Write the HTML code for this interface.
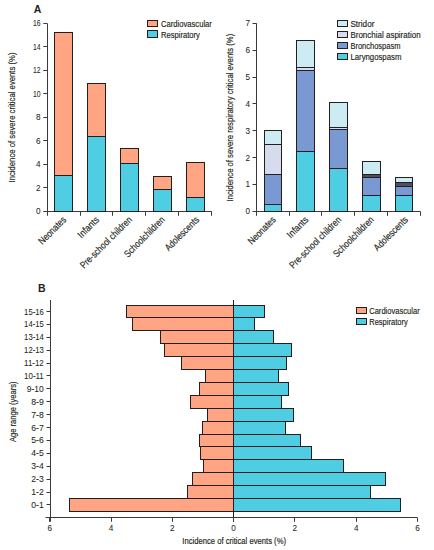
<!DOCTYPE html>
<html><head><meta charset="utf-8"><style>
html,body{margin:0;padding:0;background:#fff;}
svg{display:block;font-family:"Liberation Sans", sans-serif;}
</style></head><body>
<svg width="434" height="550" viewBox="0 0 434 550">
<rect x="0" y="0" width="434" height="550" fill="#fff"/>
<text x="33.80" y="12.70" font-size="10.5" text-anchor="start" font-weight="bold" fill="#231F20">A</text>
<line x1="47.50" y1="23.50" x2="47.50" y2="211.30" stroke="#3a3a3a" stroke-width="1.0"/>
<line x1="47.30" y1="211.50" x2="211.50" y2="211.50" stroke="#3a3a3a" stroke-width="1.0"/>
<line x1="43.30" y1="211.50" x2="47.30" y2="211.50" stroke="#3a3a3a" stroke-width="1.0"/>
<text x="40.50" y="214.30" font-size="8.2" text-anchor="end" font-weight="normal" fill="#231F20" stroke="#231F20" stroke-width="0.05">0</text>
<line x1="43.30" y1="187.50" x2="47.30" y2="187.50" stroke="#3a3a3a" stroke-width="1.0"/>
<text x="40.50" y="190.82" font-size="8.2" text-anchor="end" font-weight="normal" fill="#231F20" stroke="#231F20" stroke-width="0.05">2</text>
<line x1="43.30" y1="164.50" x2="47.30" y2="164.50" stroke="#3a3a3a" stroke-width="1.0"/>
<text x="40.50" y="167.34" font-size="8.2" text-anchor="end" font-weight="normal" fill="#231F20" stroke="#231F20" stroke-width="0.05">4</text>
<line x1="43.30" y1="140.50" x2="47.30" y2="140.50" stroke="#3a3a3a" stroke-width="1.0"/>
<text x="40.50" y="143.86" font-size="8.2" text-anchor="end" font-weight="normal" fill="#231F20" stroke="#231F20" stroke-width="0.05">6</text>
<line x1="43.30" y1="117.50" x2="47.30" y2="117.50" stroke="#3a3a3a" stroke-width="1.0"/>
<text x="40.50" y="120.38" font-size="8.2" text-anchor="end" font-weight="normal" fill="#231F20" stroke="#231F20" stroke-width="0.05">8</text>
<line x1="43.30" y1="93.50" x2="47.30" y2="93.50" stroke="#3a3a3a" stroke-width="1.0"/>
<text x="40.50" y="96.90" font-size="8.2" text-anchor="end" font-weight="normal" textLength="7.60" lengthAdjust="spacingAndGlyphs" fill="#231F20" stroke="#231F20" stroke-width="0.05">10</text>
<line x1="43.30" y1="70.50" x2="47.30" y2="70.50" stroke="#3a3a3a" stroke-width="1.0"/>
<text x="40.50" y="73.42" font-size="8.2" text-anchor="end" font-weight="normal" textLength="7.60" lengthAdjust="spacingAndGlyphs" fill="#231F20" stroke="#231F20" stroke-width="0.05">12</text>
<line x1="43.30" y1="46.50" x2="47.30" y2="46.50" stroke="#3a3a3a" stroke-width="1.0"/>
<text x="40.50" y="49.94" font-size="8.2" text-anchor="end" font-weight="normal" textLength="7.60" lengthAdjust="spacingAndGlyphs" fill="#231F20" stroke="#231F20" stroke-width="0.05">14</text>
<line x1="43.30" y1="23.50" x2="47.30" y2="23.50" stroke="#3a3a3a" stroke-width="1.0"/>
<text x="40.50" y="26.46" font-size="8.2" text-anchor="end" font-weight="normal" textLength="7.60" lengthAdjust="spacingAndGlyphs" fill="#231F20" stroke="#231F20" stroke-width="0.05">16</text>
<line x1="47.50" y1="211.30" x2="47.50" y2="215.80" stroke="#3a3a3a" stroke-width="1.0"/>
<line x1="80.50" y1="211.30" x2="80.50" y2="215.80" stroke="#3a3a3a" stroke-width="1.0"/>
<line x1="112.50" y1="211.30" x2="112.50" y2="215.80" stroke="#3a3a3a" stroke-width="1.0"/>
<line x1="145.50" y1="211.30" x2="145.50" y2="215.80" stroke="#3a3a3a" stroke-width="1.0"/>
<line x1="178.50" y1="211.30" x2="178.50" y2="215.80" stroke="#3a3a3a" stroke-width="1.0"/>
<line x1="211.50" y1="211.30" x2="211.50" y2="215.80" stroke="#3a3a3a" stroke-width="1.0"/>
<rect x="54.50" y="175.50" width="18.00" height="36.00" fill="#4FCDE3" stroke="#231F20" stroke-width="1.0"/>
<rect x="54.50" y="32.50" width="18.00" height="143.00" fill="#FFA583" stroke="#231F20" stroke-width="1.0"/>
<rect x="87.50" y="136.50" width="18.00" height="75.00" fill="#4FCDE3" stroke="#231F20" stroke-width="1.0"/>
<rect x="87.50" y="83.50" width="18.00" height="53.00" fill="#FFA583" stroke="#231F20" stroke-width="1.0"/>
<rect x="120.50" y="163.50" width="18.00" height="48.00" fill="#4FCDE3" stroke="#231F20" stroke-width="1.0"/>
<rect x="120.50" y="148.50" width="18.00" height="15.00" fill="#FFA583" stroke="#231F20" stroke-width="1.0"/>
<rect x="153.50" y="189.50" width="18.00" height="22.00" fill="#4FCDE3" stroke="#231F20" stroke-width="1.0"/>
<rect x="153.50" y="176.50" width="18.00" height="13.00" fill="#FFA583" stroke="#231F20" stroke-width="1.0"/>
<rect x="186.50" y="197.50" width="18.00" height="14.00" fill="#4FCDE3" stroke="#231F20" stroke-width="1.0"/>
<rect x="186.50" y="162.50" width="18.00" height="35.00" fill="#FFA583" stroke="#231F20" stroke-width="1.0"/>
<text x="66.90" y="220.40" font-size="9.8" text-anchor="end" font-weight="normal" textLength="34.80" lengthAdjust="spacingAndGlyphs" transform="rotate(-45 66.90 220.40)" fill="#231F20" stroke="#231F20" stroke-width="0.16">Neonates</text>
<text x="99.74" y="220.40" font-size="9.8" text-anchor="end" font-weight="normal" textLength="25.80" lengthAdjust="spacingAndGlyphs" transform="rotate(-45 99.74 220.40)" fill="#231F20" stroke="#231F20" stroke-width="0.16">Infants</text>
<text x="132.58" y="220.40" font-size="9.8" text-anchor="end" font-weight="normal" textLength="68.80" lengthAdjust="spacingAndGlyphs" transform="rotate(-45 132.58 220.40)" fill="#231F20" stroke="#231F20" stroke-width="0.16">Pre-school children</text>
<text x="165.42" y="220.40" font-size="9.8" text-anchor="end" font-weight="normal" textLength="53.00" lengthAdjust="spacingAndGlyphs" transform="rotate(-45 165.42 220.40)" fill="#231F20" stroke="#231F20" stroke-width="0.16">Schoolchildren</text>
<text x="199.76" y="220.40" font-size="9.8" text-anchor="end" font-weight="normal" textLength="44.00" lengthAdjust="spacingAndGlyphs" transform="rotate(-45 199.76 220.40)" fill="#231F20" stroke="#231F20" stroke-width="0.16">Adolescents</text>
<text x="15.00" y="117.50" font-size="8.5" text-anchor="middle" font-weight="normal" textLength="130.00" lengthAdjust="spacingAndGlyphs" transform="rotate(-90 15.00 117.50)" fill="#231F20" stroke="#231F20" stroke-width="0.16">Incidence of severe critical events (%)</text>
<rect x="147.50" y="20.50" width="10.00" height="6.00" fill="#FFA583" stroke="#231F20" stroke-width="1.0"/>
<rect x="147.50" y="30.50" width="10.00" height="7.00" fill="#4FCDE3" stroke="#231F20" stroke-width="1.0"/>
<text x="160.90" y="26.90" font-size="9.0" text-anchor="start" font-weight="normal" textLength="51.00" lengthAdjust="spacingAndGlyphs" fill="#231F20" stroke="#231F20" stroke-width="0.16">Cardiovascular</text>
<text x="160.90" y="37.60" font-size="9.0" text-anchor="start" font-weight="normal" textLength="39.00" lengthAdjust="spacingAndGlyphs" fill="#231F20" stroke="#231F20" stroke-width="0.16">Respiratory</text>
<line x1="256.50" y1="23.30" x2="256.50" y2="211.30" stroke="#3a3a3a" stroke-width="1.0"/>
<line x1="256.50" y1="211.50" x2="420.00" y2="211.50" stroke="#3a3a3a" stroke-width="1.0"/>
<line x1="252.50" y1="211.50" x2="256.50" y2="211.50" stroke="#3a3a3a" stroke-width="1.0"/>
<text x="250.00" y="214.30" font-size="8.2" text-anchor="end" font-weight="normal" fill="#231F20" stroke="#231F20" stroke-width="0.05">0</text>
<line x1="252.50" y1="184.50" x2="256.50" y2="184.50" stroke="#3a3a3a" stroke-width="1.0"/>
<text x="250.00" y="187.45" font-size="8.2" text-anchor="end" font-weight="normal" fill="#231F20" stroke="#231F20" stroke-width="0.05">1</text>
<line x1="252.50" y1="157.50" x2="256.50" y2="157.50" stroke="#3a3a3a" stroke-width="1.0"/>
<text x="250.00" y="160.60" font-size="8.2" text-anchor="end" font-weight="normal" fill="#231F20" stroke="#231F20" stroke-width="0.05">2</text>
<line x1="252.50" y1="130.50" x2="256.50" y2="130.50" stroke="#3a3a3a" stroke-width="1.0"/>
<text x="250.00" y="133.75" font-size="8.2" text-anchor="end" font-weight="normal" fill="#231F20" stroke="#231F20" stroke-width="0.05">3</text>
<line x1="252.50" y1="103.50" x2="256.50" y2="103.50" stroke="#3a3a3a" stroke-width="1.0"/>
<text x="250.00" y="106.90" font-size="8.2" text-anchor="end" font-weight="normal" fill="#231F20" stroke="#231F20" stroke-width="0.05">4</text>
<line x1="252.50" y1="77.50" x2="256.50" y2="77.50" stroke="#3a3a3a" stroke-width="1.0"/>
<text x="250.00" y="80.05" font-size="8.2" text-anchor="end" font-weight="normal" fill="#231F20" stroke="#231F20" stroke-width="0.05">5</text>
<line x1="252.50" y1="50.50" x2="256.50" y2="50.50" stroke="#3a3a3a" stroke-width="1.0"/>
<text x="250.00" y="53.20" font-size="8.2" text-anchor="end" font-weight="normal" fill="#231F20" stroke="#231F20" stroke-width="0.05">6</text>
<line x1="252.50" y1="23.50" x2="256.50" y2="23.50" stroke="#3a3a3a" stroke-width="1.0"/>
<text x="250.00" y="26.35" font-size="8.2" text-anchor="end" font-weight="normal" fill="#231F20" stroke="#231F20" stroke-width="0.05">7</text>
<line x1="256.50" y1="211.30" x2="256.50" y2="215.80" stroke="#3a3a3a" stroke-width="1.0"/>
<line x1="289.50" y1="211.30" x2="289.50" y2="215.80" stroke="#3a3a3a" stroke-width="1.0"/>
<line x1="321.50" y1="211.30" x2="321.50" y2="215.80" stroke="#3a3a3a" stroke-width="1.0"/>
<line x1="354.50" y1="211.30" x2="354.50" y2="215.80" stroke="#3a3a3a" stroke-width="1.0"/>
<line x1="387.50" y1="211.30" x2="387.50" y2="215.80" stroke="#3a3a3a" stroke-width="1.0"/>
<line x1="420.50" y1="211.30" x2="420.50" y2="215.80" stroke="#3a3a3a" stroke-width="1.0"/>
<rect x="264.50" y="204.50" width="17.00" height="7.00" fill="#4FCDE3" stroke="#231F20" stroke-width="1.0"/>
<rect x="264.50" y="174.50" width="17.00" height="30.00" fill="#7A98D2" stroke="#231F20" stroke-width="1.0"/>
<rect x="264.50" y="144.50" width="17.00" height="30.00" fill="#D6DCEE" stroke="#231F20" stroke-width="1.0"/>
<rect x="264.50" y="130.50" width="17.00" height="14.00" fill="#CDEBF3" stroke="#231F20" stroke-width="1.0"/>
<rect x="296.50" y="151.50" width="18.00" height="60.00" fill="#4FCDE3" stroke="#231F20" stroke-width="1.0"/>
<rect x="296.50" y="70.50" width="18.00" height="81.00" fill="#7A98D2" stroke="#231F20" stroke-width="1.0"/>
<rect x="296.50" y="67.50" width="18.00" height="3.00" fill="#D6DCEE" stroke="#231F20" stroke-width="1.0"/>
<rect x="296.50" y="40.50" width="18.00" height="27.00" fill="#CDEBF3" stroke="#231F20" stroke-width="1.0"/>
<rect x="329.50" y="168.50" width="18.00" height="43.00" fill="#4FCDE3" stroke="#231F20" stroke-width="1.0"/>
<rect x="329.50" y="129.50" width="18.00" height="39.00" fill="#7A98D2" stroke="#231F20" stroke-width="1.0"/>
<rect x="329.50" y="127.50" width="18.00" height="2.00" fill="#D6DCEE" stroke="#231F20" stroke-width="1.0"/>
<rect x="329.50" y="102.50" width="18.00" height="25.00" fill="#CDEBF3" stroke="#231F20" stroke-width="1.0"/>
<rect x="362.50" y="195.50" width="18.00" height="16.00" fill="#4FCDE3" stroke="#231F20" stroke-width="1.0"/>
<rect x="362.50" y="177.50" width="18.00" height="18.00" fill="#7A98D2" stroke="#231F20" stroke-width="1.0"/>
<rect x="362.50" y="174.50" width="18.00" height="3.00" fill="#4E505E" stroke="#231F20" stroke-width="1.0"/>
<rect x="362.50" y="161.50" width="18.00" height="13.00" fill="#CDEBF3" stroke="#231F20" stroke-width="1.0"/>
<rect x="395.50" y="195.50" width="17.00" height="16.00" fill="#4FCDE3" stroke="#231F20" stroke-width="1.0"/>
<rect x="395.50" y="186.50" width="17.00" height="9.00" fill="#7A98D2" stroke="#231F20" stroke-width="1.0"/>
<rect x="395.50" y="182.50" width="17.00" height="4.00" fill="#4E505E" stroke="#231F20" stroke-width="1.0"/>
<rect x="395.50" y="177.50" width="17.00" height="5.00" fill="#CDEBF3" stroke="#231F20" stroke-width="1.0"/>
<text x="276.40" y="220.40" font-size="9.8" text-anchor="end" font-weight="normal" textLength="34.80" lengthAdjust="spacingAndGlyphs" transform="rotate(-45 276.40 220.40)" fill="#231F20" stroke="#231F20" stroke-width="0.16">Neonates</text>
<text x="309.10" y="220.40" font-size="9.8" text-anchor="end" font-weight="normal" textLength="25.80" lengthAdjust="spacingAndGlyphs" transform="rotate(-45 309.10 220.40)" fill="#231F20" stroke="#231F20" stroke-width="0.16">Infants</text>
<text x="341.80" y="220.40" font-size="9.8" text-anchor="end" font-weight="normal" textLength="68.80" lengthAdjust="spacingAndGlyphs" transform="rotate(-45 341.80 220.40)" fill="#231F20" stroke="#231F20" stroke-width="0.16">Pre-school children</text>
<text x="374.50" y="220.40" font-size="9.8" text-anchor="end" font-weight="normal" textLength="53.00" lengthAdjust="spacingAndGlyphs" transform="rotate(-45 374.50 220.40)" fill="#231F20" stroke="#231F20" stroke-width="0.16">Schoolchildren</text>
<text x="408.70" y="220.40" font-size="9.8" text-anchor="end" font-weight="normal" textLength="44.00" lengthAdjust="spacingAndGlyphs" transform="rotate(-45 408.70 220.40)" fill="#231F20" stroke="#231F20" stroke-width="0.16">Adolescents</text>
<text x="233.50" y="117.60" font-size="8.5" text-anchor="middle" font-weight="normal" textLength="167.60" lengthAdjust="spacingAndGlyphs" transform="rotate(-90 233.50 117.60)" fill="#231F20" stroke="#231F20" stroke-width="0.16">Incidence of severe respiratory critical events (%)</text>
<rect x="337.50" y="20.50" width="10.00" height="6.00" fill="#CDEBF3" stroke="#231F20" stroke-width="1.0"/>
<text x="350.40" y="26.90" font-size="9.0" text-anchor="start" font-weight="normal" textLength="24.00" lengthAdjust="spacingAndGlyphs" fill="#231F20" stroke="#231F20" stroke-width="0.16">Stridor</text>
<rect x="337.50" y="31.50" width="10.00" height="6.00" fill="#D6DCEE" stroke="#231F20" stroke-width="1.0"/>
<text x="350.40" y="37.85" font-size="9.0" text-anchor="start" font-weight="normal" textLength="70.20" lengthAdjust="spacingAndGlyphs" fill="#231F20" stroke="#231F20" stroke-width="0.16">Bronchial aspiration</text>
<rect x="337.50" y="42.50" width="10.00" height="6.00" fill="#7A98D2" stroke="#231F20" stroke-width="1.0"/>
<text x="350.40" y="48.80" font-size="9.0" text-anchor="start" font-weight="normal" textLength="50.00" lengthAdjust="spacingAndGlyphs" fill="#231F20" stroke="#231F20" stroke-width="0.16">Bronchospasm</text>
<rect x="337.50" y="53.50" width="10.00" height="6.00" fill="#4FCDE3" stroke="#231F20" stroke-width="1.0"/>
<text x="350.40" y="59.75" font-size="9.0" text-anchor="start" font-weight="normal" textLength="51.00" lengthAdjust="spacingAndGlyphs" fill="#231F20" stroke="#231F20" stroke-width="0.16">Laryngospasm</text>
<text x="37.90" y="291.90" font-size="10.5" text-anchor="start" font-weight="bold" fill="#231F20">B</text>
<rect x="126.50" y="305.50" width="107.00" height="12.00" fill="#FFA583" stroke="#231F20" stroke-width="1.0"/>
<rect x="233.50" y="305.50" width="31.00" height="12.00" fill="#4FCDE3" stroke="#231F20" stroke-width="1.0"/>
<rect x="132.50" y="317.50" width="101.00" height="13.00" fill="#FFA583" stroke="#231F20" stroke-width="1.0"/>
<rect x="233.50" y="317.50" width="21.00" height="13.00" fill="#4FCDE3" stroke="#231F20" stroke-width="1.0"/>
<rect x="160.50" y="330.50" width="73.00" height="13.00" fill="#FFA583" stroke="#231F20" stroke-width="1.0"/>
<rect x="233.50" y="330.50" width="40.00" height="13.00" fill="#4FCDE3" stroke="#231F20" stroke-width="1.0"/>
<rect x="164.50" y="343.50" width="69.00" height="13.00" fill="#FFA583" stroke="#231F20" stroke-width="1.0"/>
<rect x="233.50" y="343.50" width="58.00" height="13.00" fill="#4FCDE3" stroke="#231F20" stroke-width="1.0"/>
<rect x="181.50" y="356.50" width="52.00" height="13.00" fill="#FFA583" stroke="#231F20" stroke-width="1.0"/>
<rect x="233.50" y="356.50" width="53.00" height="13.00" fill="#4FCDE3" stroke="#231F20" stroke-width="1.0"/>
<rect x="205.50" y="369.50" width="28.00" height="13.00" fill="#FFA583" stroke="#231F20" stroke-width="1.0"/>
<rect x="233.50" y="369.50" width="45.00" height="13.00" fill="#4FCDE3" stroke="#231F20" stroke-width="1.0"/>
<rect x="199.50" y="382.50" width="34.00" height="13.00" fill="#FFA583" stroke="#231F20" stroke-width="1.0"/>
<rect x="233.50" y="382.50" width="55.00" height="13.00" fill="#4FCDE3" stroke="#231F20" stroke-width="1.0"/>
<rect x="190.50" y="395.50" width="43.00" height="13.00" fill="#FFA583" stroke="#231F20" stroke-width="1.0"/>
<rect x="233.50" y="395.50" width="48.00" height="13.00" fill="#4FCDE3" stroke="#231F20" stroke-width="1.0"/>
<rect x="207.50" y="408.50" width="26.00" height="13.00" fill="#FFA583" stroke="#231F20" stroke-width="1.0"/>
<rect x="233.50" y="408.50" width="60.00" height="13.00" fill="#4FCDE3" stroke="#231F20" stroke-width="1.0"/>
<rect x="202.50" y="421.50" width="31.00" height="13.00" fill="#FFA583" stroke="#231F20" stroke-width="1.0"/>
<rect x="233.50" y="421.50" width="52.00" height="13.00" fill="#4FCDE3" stroke="#231F20" stroke-width="1.0"/>
<rect x="199.50" y="434.50" width="34.00" height="12.00" fill="#FFA583" stroke="#231F20" stroke-width="1.0"/>
<rect x="233.50" y="434.50" width="67.00" height="12.00" fill="#4FCDE3" stroke="#231F20" stroke-width="1.0"/>
<rect x="200.50" y="446.50" width="33.00" height="13.00" fill="#FFA583" stroke="#231F20" stroke-width="1.0"/>
<rect x="233.50" y="446.50" width="78.00" height="13.00" fill="#4FCDE3" stroke="#231F20" stroke-width="1.0"/>
<rect x="203.50" y="459.50" width="30.00" height="13.00" fill="#FFA583" stroke="#231F20" stroke-width="1.0"/>
<rect x="233.50" y="459.50" width="110.00" height="13.00" fill="#4FCDE3" stroke="#231F20" stroke-width="1.0"/>
<rect x="192.50" y="472.50" width="41.00" height="13.00" fill="#FFA583" stroke="#231F20" stroke-width="1.0"/>
<rect x="233.50" y="472.50" width="152.00" height="13.00" fill="#4FCDE3" stroke="#231F20" stroke-width="1.0"/>
<rect x="187.50" y="485.50" width="46.00" height="13.00" fill="#FFA583" stroke="#231F20" stroke-width="1.0"/>
<rect x="233.50" y="485.50" width="137.00" height="13.00" fill="#4FCDE3" stroke="#231F20" stroke-width="1.0"/>
<rect x="69.50" y="498.50" width="164.00" height="13.00" fill="#FFA583" stroke="#231F20" stroke-width="1.0"/>
<rect x="233.50" y="498.50" width="167.00" height="13.00" fill="#4FCDE3" stroke="#231F20" stroke-width="1.0"/>
<line x1="233.50" y1="300.00" x2="233.50" y2="521.80" stroke="#231F20" stroke-width="1.0"/>
<line x1="50.50" y1="300.00" x2="50.50" y2="517.80" stroke="#3a3a3a" stroke-width="1.0"/>
<line x1="45.50" y1="517.50" x2="417.50" y2="517.50" stroke="#3a3a3a" stroke-width="1.0"/>
<line x1="50.50" y1="517.80" x2="50.50" y2="521.80" stroke="#3a3a3a" stroke-width="1.0"/>
<line x1="46.50" y1="311.50" x2="50.50" y2="311.50" stroke="#3a3a3a" stroke-width="1.0"/>
<text x="43.80" y="314.55" font-size="8.2" text-anchor="end" font-weight="normal" textLength="19.70" lengthAdjust="spacingAndGlyphs" fill="#231F20" stroke="#231F20" stroke-width="0.05">15-16</text>
<line x1="46.50" y1="324.50" x2="50.50" y2="324.50" stroke="#3a3a3a" stroke-width="1.0"/>
<text x="43.80" y="327.44" font-size="8.2" text-anchor="end" font-weight="normal" textLength="19.70" lengthAdjust="spacingAndGlyphs" fill="#231F20" stroke="#231F20" stroke-width="0.05">14-15</text>
<line x1="46.50" y1="337.50" x2="50.50" y2="337.50" stroke="#3a3a3a" stroke-width="1.0"/>
<text x="43.80" y="340.33" font-size="8.2" text-anchor="end" font-weight="normal" textLength="19.70" lengthAdjust="spacingAndGlyphs" fill="#231F20" stroke="#231F20" stroke-width="0.05">13-14</text>
<line x1="46.50" y1="350.50" x2="50.50" y2="350.50" stroke="#3a3a3a" stroke-width="1.0"/>
<text x="43.80" y="353.22" font-size="8.2" text-anchor="end" font-weight="normal" textLength="19.70" lengthAdjust="spacingAndGlyphs" fill="#231F20" stroke="#231F20" stroke-width="0.05">12-13</text>
<line x1="46.50" y1="363.50" x2="50.50" y2="363.50" stroke="#3a3a3a" stroke-width="1.0"/>
<text x="43.80" y="366.11" font-size="8.2" text-anchor="end" font-weight="normal" textLength="19.70" lengthAdjust="spacingAndGlyphs" fill="#231F20" stroke="#231F20" stroke-width="0.05">11-12</text>
<line x1="46.50" y1="375.50" x2="50.50" y2="375.50" stroke="#3a3a3a" stroke-width="1.0"/>
<text x="43.80" y="379.00" font-size="8.2" text-anchor="end" font-weight="normal" textLength="19.70" lengthAdjust="spacingAndGlyphs" fill="#231F20" stroke="#231F20" stroke-width="0.05">10-11</text>
<line x1="46.50" y1="388.50" x2="50.50" y2="388.50" stroke="#3a3a3a" stroke-width="1.0"/>
<text x="43.80" y="391.88" font-size="8.2" text-anchor="end" font-weight="normal" textLength="17.00" lengthAdjust="spacingAndGlyphs" fill="#231F20" stroke="#231F20" stroke-width="0.05">9-10</text>
<line x1="46.50" y1="401.50" x2="50.50" y2="401.50" stroke="#3a3a3a" stroke-width="1.0"/>
<text x="43.80" y="404.78" font-size="8.2" text-anchor="end" font-weight="normal" textLength="12.50" lengthAdjust="spacingAndGlyphs" fill="#231F20" stroke="#231F20" stroke-width="0.05">8-9</text>
<line x1="46.50" y1="414.50" x2="50.50" y2="414.50" stroke="#3a3a3a" stroke-width="1.0"/>
<text x="43.80" y="417.67" font-size="8.2" text-anchor="end" font-weight="normal" textLength="12.50" lengthAdjust="spacingAndGlyphs" fill="#231F20" stroke="#231F20" stroke-width="0.05">7-8</text>
<line x1="46.50" y1="427.50" x2="50.50" y2="427.50" stroke="#3a3a3a" stroke-width="1.0"/>
<text x="43.80" y="430.56" font-size="8.2" text-anchor="end" font-weight="normal" textLength="12.50" lengthAdjust="spacingAndGlyphs" fill="#231F20" stroke="#231F20" stroke-width="0.05">6-7</text>
<line x1="46.50" y1="440.50" x2="50.50" y2="440.50" stroke="#3a3a3a" stroke-width="1.0"/>
<text x="43.80" y="443.45" font-size="8.2" text-anchor="end" font-weight="normal" textLength="12.50" lengthAdjust="spacingAndGlyphs" fill="#231F20" stroke="#231F20" stroke-width="0.05">5-6</text>
<line x1="46.50" y1="453.50" x2="50.50" y2="453.50" stroke="#3a3a3a" stroke-width="1.0"/>
<text x="43.80" y="456.34" font-size="8.2" text-anchor="end" font-weight="normal" textLength="12.50" lengthAdjust="spacingAndGlyphs" fill="#231F20" stroke="#231F20" stroke-width="0.05">4-5</text>
<line x1="46.50" y1="466.50" x2="50.50" y2="466.50" stroke="#3a3a3a" stroke-width="1.0"/>
<text x="43.80" y="469.23" font-size="8.2" text-anchor="end" font-weight="normal" textLength="12.50" lengthAdjust="spacingAndGlyphs" fill="#231F20" stroke="#231F20" stroke-width="0.05">3-4</text>
<line x1="46.50" y1="479.50" x2="50.50" y2="479.50" stroke="#3a3a3a" stroke-width="1.0"/>
<text x="43.80" y="482.12" font-size="8.2" text-anchor="end" font-weight="normal" textLength="12.50" lengthAdjust="spacingAndGlyphs" fill="#231F20" stroke="#231F20" stroke-width="0.05">2-3</text>
<line x1="46.50" y1="492.50" x2="50.50" y2="492.50" stroke="#3a3a3a" stroke-width="1.0"/>
<text x="43.80" y="495.00" font-size="8.2" text-anchor="end" font-weight="normal" textLength="12.50" lengthAdjust="spacingAndGlyphs" fill="#231F20" stroke="#231F20" stroke-width="0.05">1-2</text>
<line x1="46.50" y1="504.50" x2="50.50" y2="504.50" stroke="#3a3a3a" stroke-width="1.0"/>
<text x="43.80" y="507.90" font-size="8.2" text-anchor="end" font-weight="normal" textLength="12.50" lengthAdjust="spacingAndGlyphs" fill="#231F20" stroke="#231F20" stroke-width="0.05">0-1</text>
<line x1="49.50" y1="517.80" x2="49.50" y2="521.80" stroke="#3a3a3a" stroke-width="1.0"/>
<text x="49.70" y="530.50" font-size="8.2" text-anchor="middle" font-weight="normal" fill="#231F20" stroke="#231F20" stroke-width="0.05">6</text>
<line x1="111.50" y1="517.80" x2="111.50" y2="521.80" stroke="#3a3a3a" stroke-width="1.0"/>
<text x="111.00" y="530.50" font-size="8.2" text-anchor="middle" font-weight="normal" fill="#231F20" stroke="#231F20" stroke-width="0.05">4</text>
<line x1="172.50" y1="517.80" x2="172.50" y2="521.80" stroke="#3a3a3a" stroke-width="1.0"/>
<text x="172.30" y="530.50" font-size="8.2" text-anchor="middle" font-weight="normal" fill="#231F20" stroke="#231F20" stroke-width="0.05">2</text>
<line x1="233.50" y1="517.80" x2="233.50" y2="521.80" stroke="#3a3a3a" stroke-width="1.0"/>
<text x="233.60" y="530.50" font-size="8.2" text-anchor="middle" font-weight="normal" fill="#231F20" stroke="#231F20" stroke-width="0.05">0</text>
<line x1="294.50" y1="517.80" x2="294.50" y2="521.80" stroke="#3a3a3a" stroke-width="1.0"/>
<text x="294.90" y="530.50" font-size="8.2" text-anchor="middle" font-weight="normal" fill="#231F20" stroke="#231F20" stroke-width="0.05">2</text>
<line x1="356.50" y1="517.80" x2="356.50" y2="521.80" stroke="#3a3a3a" stroke-width="1.0"/>
<text x="356.20" y="530.50" font-size="8.2" text-anchor="middle" font-weight="normal" fill="#231F20" stroke="#231F20" stroke-width="0.05">4</text>
<line x1="417.50" y1="517.80" x2="417.50" y2="521.80" stroke="#3a3a3a" stroke-width="1.0"/>
<text x="417.50" y="530.50" font-size="8.2" text-anchor="middle" font-weight="normal" fill="#231F20" stroke="#231F20" stroke-width="0.05">6</text>
<text x="234.15" y="544.40" font-size="8.5" text-anchor="middle" font-weight="normal" textLength="103.70" lengthAdjust="spacingAndGlyphs" fill="#231F20" stroke="#231F20" stroke-width="0.16">Incidence of critical events (%)</text>
<text x="15.80" y="411.75" font-size="8.5" text-anchor="middle" font-weight="normal" textLength="60.50" lengthAdjust="spacingAndGlyphs" transform="rotate(-90 15.80 411.75)" fill="#231F20" stroke="#231F20" stroke-width="0.16">Age range (years)</text>
<rect x="356.50" y="307.50" width="10.00" height="6.00" fill="#FFA583" stroke="#231F20" stroke-width="1.0"/>
<rect x="356.50" y="318.50" width="10.00" height="6.00" fill="#4FCDE3" stroke="#231F20" stroke-width="1.0"/>
<text x="369.20" y="314.20" font-size="9.0" text-anchor="start" font-weight="normal" textLength="50.50" lengthAdjust="spacingAndGlyphs" fill="#231F20" stroke="#231F20" stroke-width="0.16">Cardiovascular</text>
<text x="369.20" y="324.60" font-size="9.0" text-anchor="start" font-weight="normal" textLength="38.50" lengthAdjust="spacingAndGlyphs" fill="#231F20" stroke="#231F20" stroke-width="0.16">Respiratory</text>
</svg>
</body></html>
